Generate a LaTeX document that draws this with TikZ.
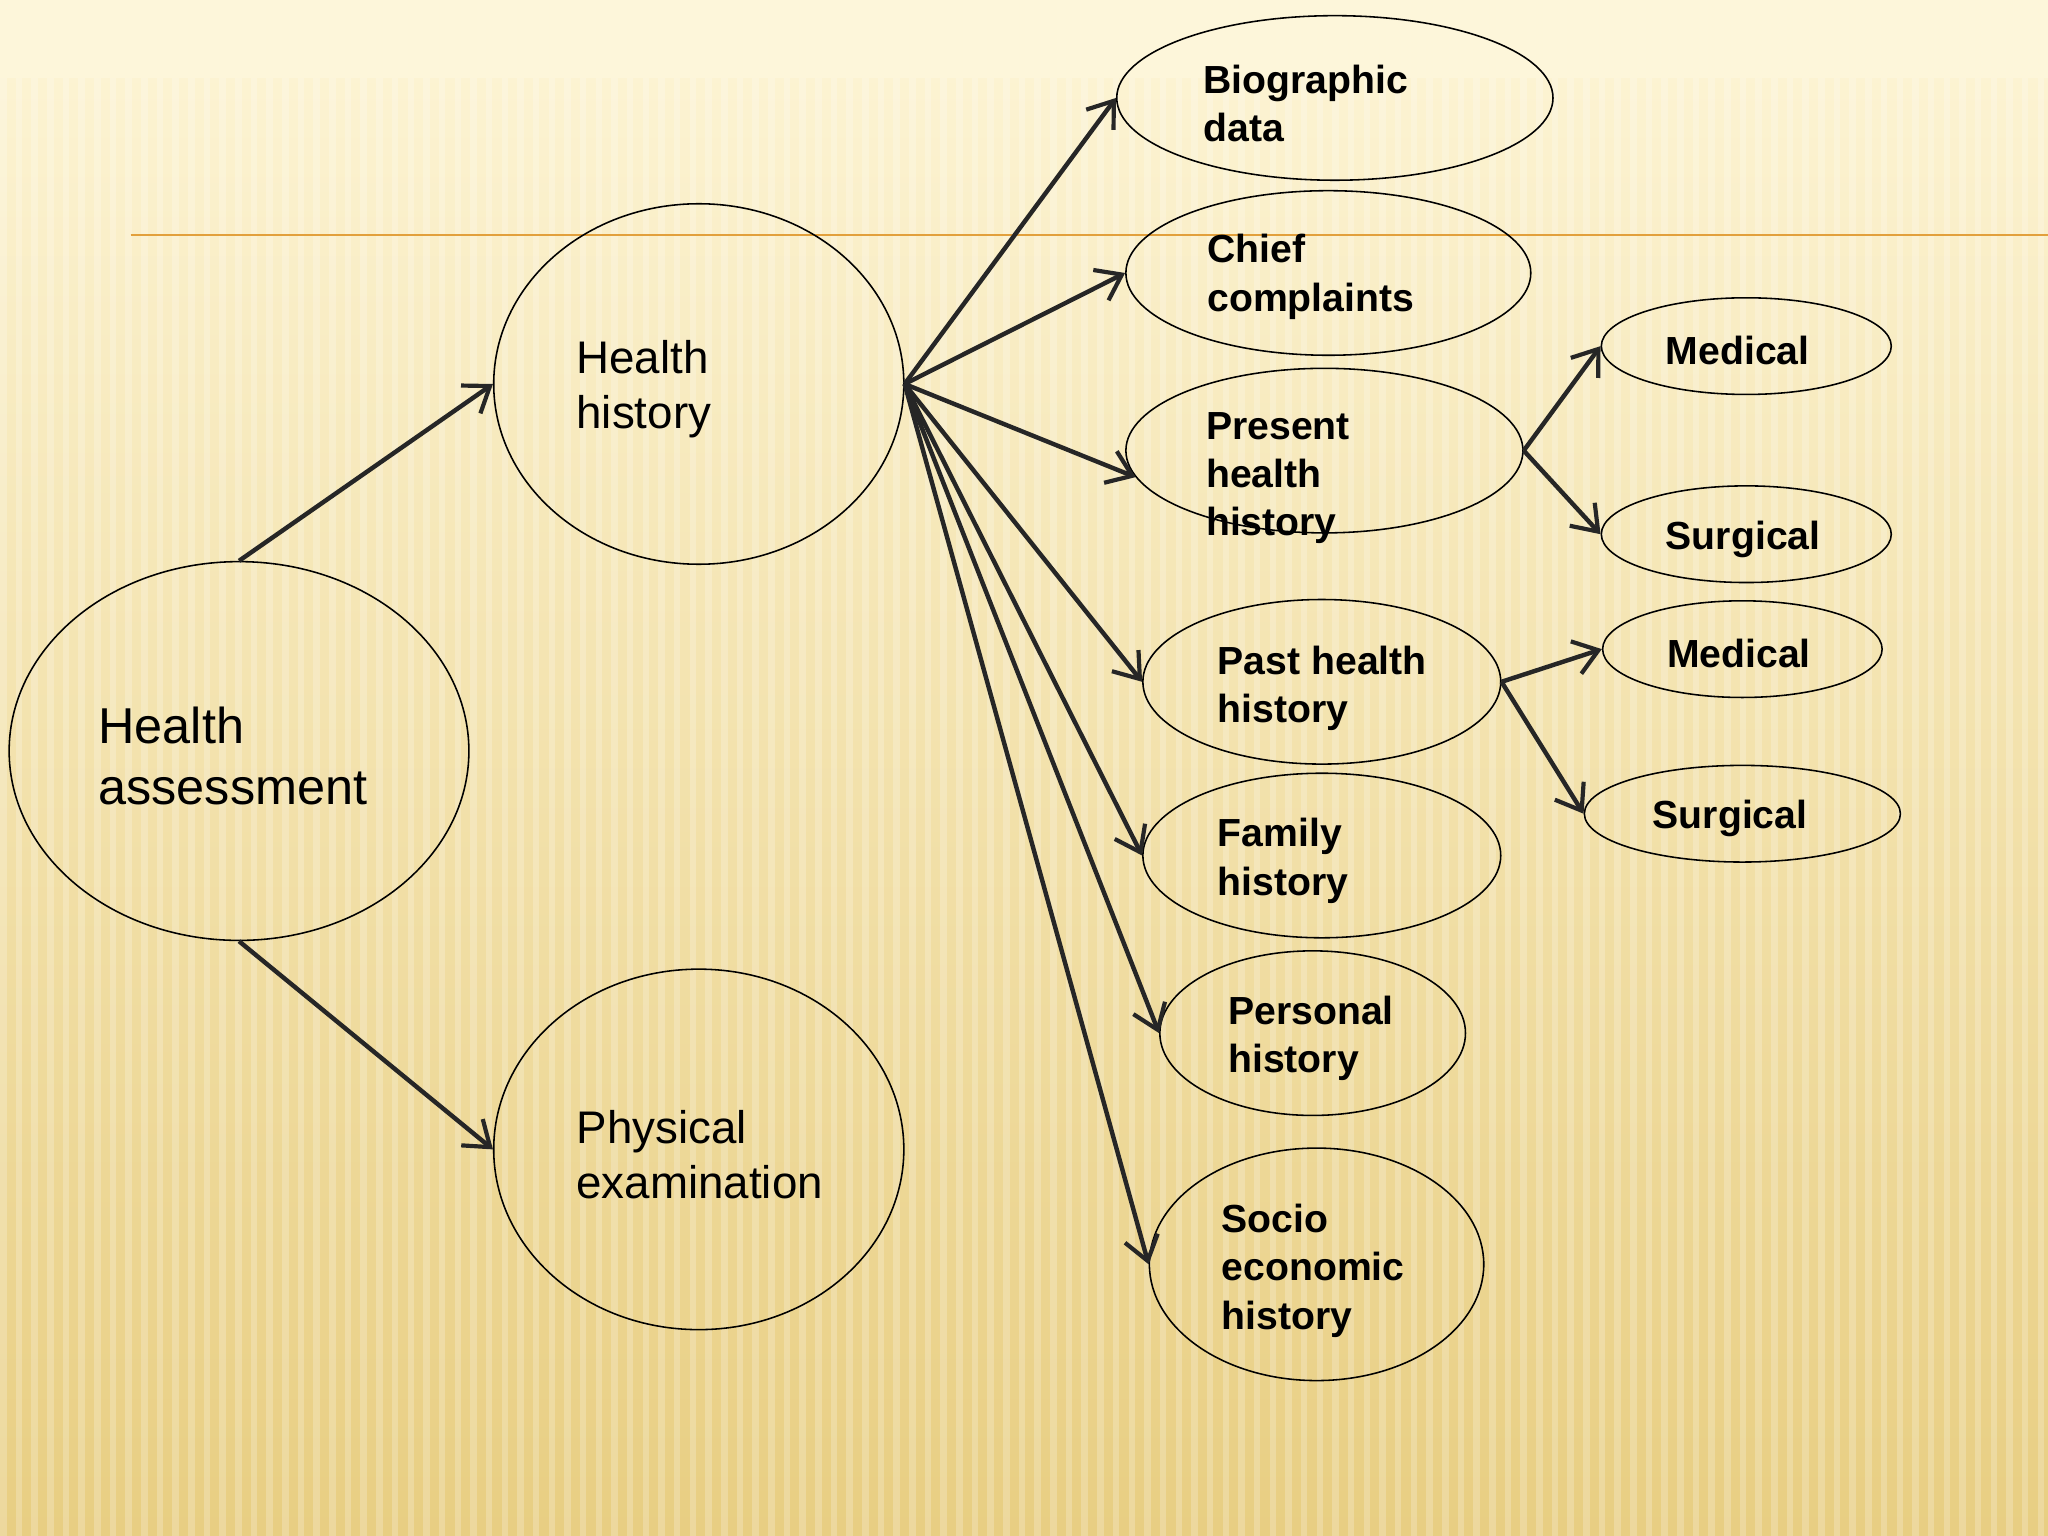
\documentclass[tikz,border=0pt]{standalone}
\usepackage{fontspec}
\setmainfont{Liberation Sans}
\usetikzlibrary{shapes.geometric,arrows.meta}
\definecolor{bgtop}{RGB}{253,245,214}
\definecolor{bgbot}{RGB}{232,206,130}
\definecolor{bgband}{RGB}{253,246,218}
\definecolor{rule}{RGB}{226,160,60}
\begin{document}
\begin{tikzpicture}[x=0.5pt,y=-0.5pt,
  ell/.style={ellipse,draw=black,line width=0.6pt,inner sep=0pt},
  arr/.style={line width=1.7pt,draw=black!85,-{Straight Barb[length=9pt,width=13pt,line width=1.6pt]}},
  big/.style={anchor=west,align=left,inner sep=0pt,yshift=-1.5pt,font=\fontsize{19.3}{23.5}\selectfont},
  mid/.style={anchor=west,align=left,inner sep=0pt,yshift=-1.5pt,font=\fontsize{17.5}{21}\selectfont},
  sm/.style={anchor=west,align=left,inner sep=0pt,yshift=-1.5pt,font=\bfseries\fontsize{15}{18.5}\selectfont}]
\useasboundingbox (0,0) rectangle (1568,1176);
\shade[top color=bgtop,bottom color=bgbot] (0,0) rectangle (1568,1176);
\fill[bgband] (0,0) rectangle (1568,60);
\foreach \i in {0,12,...,1568}{\fill[white,opacity=0.22] (\i,60) rectangle (\i+5,1176);}
\draw[rule,line width=1pt] (100,180) -- (1568,180);
\node[ell,minimum width=176pt,minimum height=145pt] (ha) at (183,575) {};
\node[ell,minimum width=157pt,minimum height=138pt] (hh) at (535,294) {};
\node[ell,minimum width=157pt,minimum height=138pt] (pe) at (535,880) {};
\node[ell,minimum width=167pt,minimum height=63pt] (bio) at (1022,75) {};
\node[ell,minimum width=155pt,minimum height=63pt] (cc) at (1017,209) {};
\node[ell,minimum width=152pt,minimum height=63pt] (phh) at (1014,345) {};
\node[ell,minimum width=137pt,minimum height=63pt] (pah) at (1012,522) {};
\node[ell,minimum width=137pt,minimum height=63pt] (fh) at (1012,655) {};
\node[ell,minimum width=117pt,minimum height=63pt] (ph) at (1005,791) {};
\node[ell,minimum width=128pt,minimum height=89pt] (se) at (1008,968) {};
\node[ell,minimum width=111pt,minimum height=37pt] (m1) at (1337,265) {};
\node[ell,minimum width=111pt,minimum height=37pt] (s1) at (1337,409) {};
\node[ell,minimum width=107pt,minimum height=37pt] (m2) at (1334,497) {};
\node[ell,minimum width=121pt,minimum height=37pt] (s2) at (1334,623) {};
\node[big] (tha) at (75,576) {Health\\assessment};
\node[mid] (thh) at (441,295) {Health\\history};
\node[mid] (tpe) at (441,881) {Physical\\examination};
\node[sm] (tbio) at (921,76) {Biographic\\data};
\node[sm] (tcc) at (924,209) {Chief\\complaints};
\node[sm] (tphh) at (923,363) {Present\\health\\history};
\node[sm] (tpah) at (932,524) {Past health\\history};
\node[sm] (tfh) at (932,656) {Family\\history};
\node[sm] (tph) at (940,792) {Personal\\history};
\node[sm] (tse) at (935,970) {Socio\\economic\\history};
\node[sm] (tm1) at (1275,265) {Medical};
\node[sm] (ts1) at (1275,410) {Surgical};
\node[sm] (tm2) at (1276,497) {Medical};
\node[sm] (ts2) at (1265,624) {Surgical};
\draw[arr] (ha.north) -- (hh.west);
\draw[arr] (ha.south) -- (pe.west);
\foreach \t in {bio,cc,pah,fh,ph,se}{\draw[arr] (hh.east) -- (\t.west);}
\draw[arr] (hh.east) -- (phh.188);
\draw[arr] (phh.east) -- (m1.west);
\draw[arr] (phh.east) -- (s1.west);
\draw[arr] (pah.east) -- (m2.west);
\draw[arr] (pah.east) -- (s2.west);
\end{tikzpicture}
\end{document}
